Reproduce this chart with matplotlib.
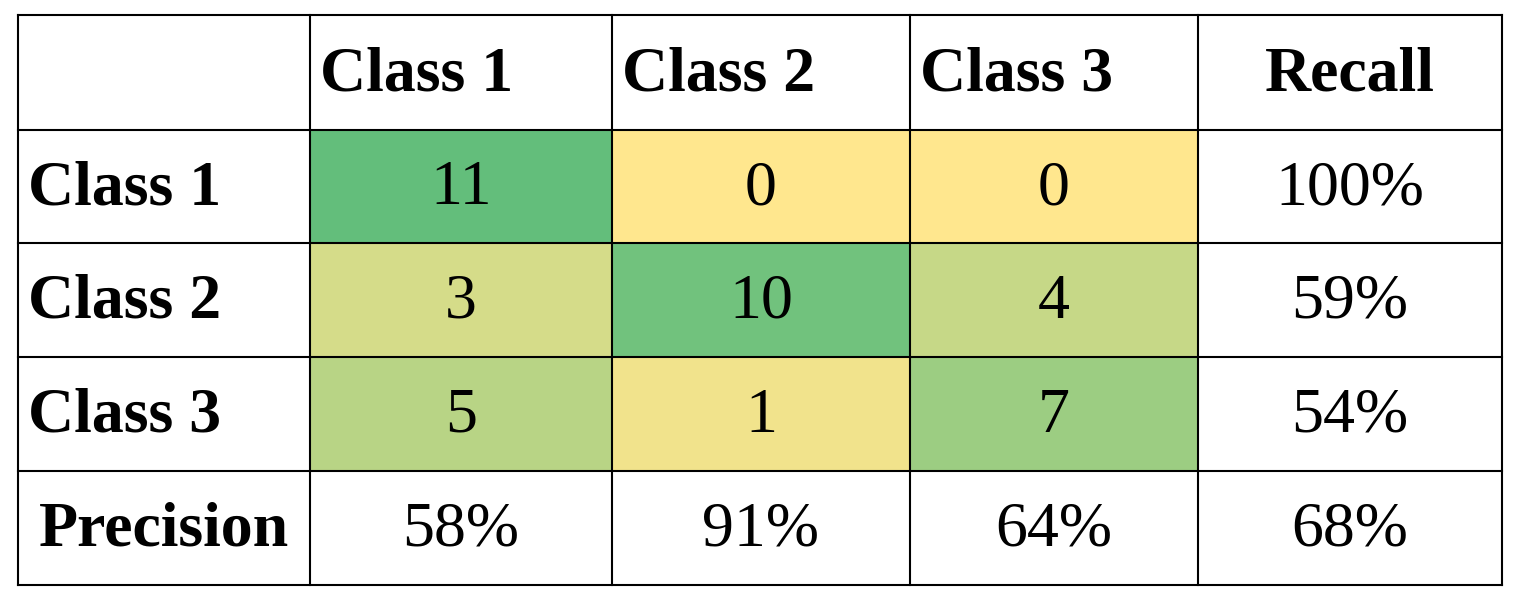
import matplotlib
matplotlib.use('Agg')
import matplotlib.pyplot as plt
from matplotlib.colors import LinearSegmentedColormap, Normalize
from matplotlib.patches import Rectangle

classes = ['Class 1', 'Class 2', 'Class 3']
matrix = [[11, 0, 0],
          [3, 10, 4],
          [5, 1, 7]]
recall = ['100%', '59%', '54%']
precision = ['58%', '91%', '64%']
accuracy = '68%'

W, H = 1517, 606
col_edges = [18, 310, 612, 910, 1198, 1502]
row_edges = [15, 130, 243, 357, 471, 585]

cmap = LinearSegmentedColormap.from_list('yg', ['#ffe78e', '#63be7b'])
norm = Normalize(0, 11)

fig = plt.figure(figsize=(W / 100, H / 100), dpi=100)
ax = fig.add_axes([0, 0, 1, 1])
ax.set_xlim(0, W)
ax.set_ylim(H, 0)
ax.axis('off')

font = 'Liberation Serif'
fs = 46


def cell(r, c, text, bold=False, color=None, left=False):
    x0, x1 = col_edges[c], col_edges[c + 1]
    y0, y1 = row_edges[r], row_edges[r + 1]
    if color is not None:
        ax.add_patch(Rectangle((x0, y0), x1 - x0, y1 - y0, facecolor=color, edgecolor='none'))
    if left:
        x, ha = x0 + 10, 'left'
    else:
        x, ha = (x0 + x1) / 2, 'center'
    ax.text(x, (y0 + y1) / 2 + 3, text, ha=ha, va='center',
            fontsize=fs, family=font, fontweight='bold' if bold else 'normal')


for j, name in enumerate(classes):
    cell(0, j + 1, name, bold=True, left=True)
    cell(j + 1, 0, name, bold=True, left=True)
cell(0, 4, 'Recall', bold=True)
cell(4, 0, 'Precision', bold=True)
for i in range(3):
    for j in range(3):
        cell(i + 1, j + 1, str(matrix[i][j]), color=cmap(norm(matrix[i][j])))
    cell(i + 1, 4, recall[i])
    cell(4, i + 1, precision[i])
cell(4, 4, accuracy)

for x in col_edges:
    ax.plot([x, x], [row_edges[0], row_edges[-1]], color='black', lw=1.5)
for y in row_edges:
    ax.plot([col_edges[0], col_edges[-1]], [y, y], color='black', lw=1.5)

fig.savefig('out.png', dpi=100, facecolor='white')
